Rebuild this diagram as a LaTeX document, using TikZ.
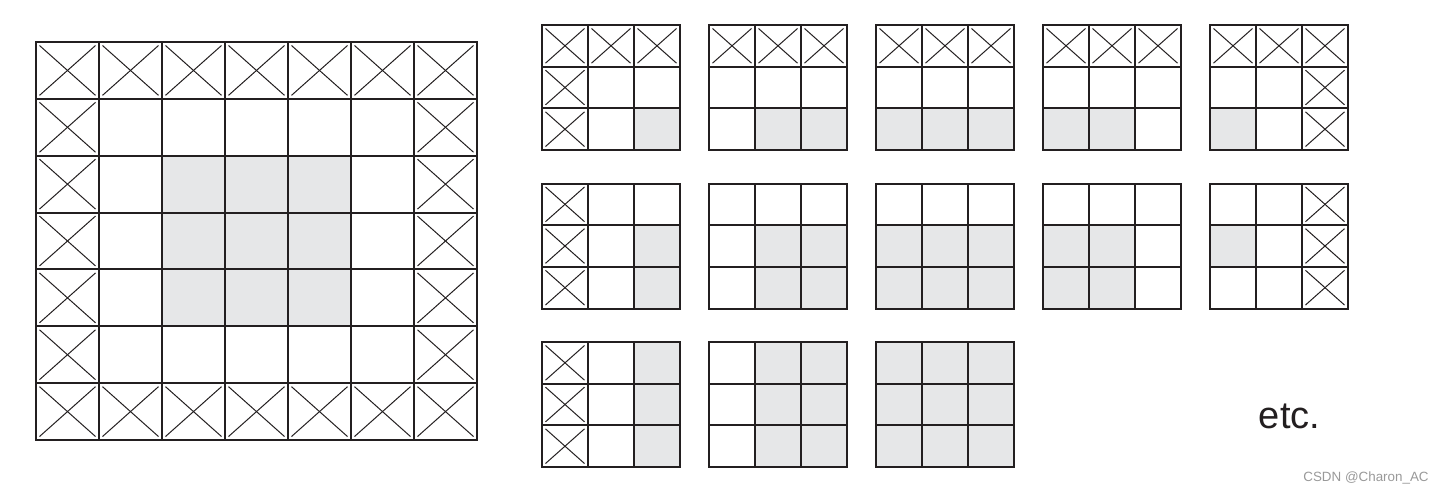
\documentclass[tikz,border=0pt]{standalone}
\usepackage{fontspec}
\setmainfont{Liberation Sans}
\definecolor{lc}{HTML}{231F20}
\definecolor{gc}{HTML}{E6E7E8}
\definecolor{wm}{HTML}{999999}
\tikzset{
  gridline/.style={draw=lc, line width=2pt, line cap=rect},
  xline/.style={draw=lc, line width=1pt},
  graycell/.style={fill=gc},
}
% #1 x0, #2 y0, #3 n, #4 w, #5 h
\newcommand\mygridlines[5]{%
  \foreach \i in {0,...,#3}{
    \draw[gridline] ({#1+\i*#4},#2) -- ({#1+\i*#4},{#2+#3*#5});
    \draw[gridline] (#1,{#2+\i*#5}) -- ({#1+#3*#4},{#2+\i*#5});
  }}
% #1 x0, #2 y0, #3 w, #4 h, #5 list r/c
\newcommand\mygray[5]{%
  \foreach \r/\c in {#5}{
    \fill[graycell] ({#1+\c*#3},{#2+\r*#4}) rectangle ++(#3,#4);
  }}
\newcommand\mycross[5]{%
  \foreach \r/\c in {#5}{
    \draw[xline] ({#1+\c*#3+3.5},{#2+\r*#4+3.5}) -- ++({#3-7},{#4-7});
    \draw[xline] ({#1+\c*#3+#3-3.5},{#2+\r*#4+3.5}) -- ++({7-#3},{#4-7});
  }}
\newcommand\sw{46}
\newcommand\sh{41.67}
\begin{document}
\begin{tikzpicture}[x=1pt,y=-1pt]
\path[use as bounding box] (0,0) rectangle (1444,493);
% big grid
\mygray{36}{42}{63}{56.86}{2/2,2/3,2/4,3/2,3/3,3/4,4/2,4/3,4/4}
\mycross{36}{42}{63}{56.86}{0/0,0/1,0/2,0/3,0/4,0/5,0/6,6/0,6/1,6/2,6/3,6/4,6/5,6/6,1/0,2/0,3/0,4/0,5/0,1/6,2/6,3/6,4/6,5/6}
\mygridlines{36}{42}{7}{63}{56.86}
% row 1
\mygray{542}{25}{\sw}{\sh}{2/2}
\mycross{542}{25}{\sw}{\sh}{0/0,0/1,0/2,1/0,2/0}
\mygray{709}{25}{\sw}{\sh}{2/1,2/2}
\mycross{709}{25}{\sw}{\sh}{0/0,0/1,0/2}
\mygray{876}{25}{\sw}{\sh}{2/0,2/1,2/2}
\mycross{876}{25}{\sw}{\sh}{0/0,0/1,0/2}
\mygray{1043}{25}{\sw}{\sh}{2/0,2/1}
\mycross{1043}{25}{\sw}{\sh}{0/0,0/1,0/2}
\mygray{1210}{25}{\sw}{\sh}{2/0}
\mycross{1210}{25}{\sw}{\sh}{0/0,0/1,0/2,1/2,2/2}
% row 2
\mygray{542}{183.5}{\sw}{\sh}{1/2,2/2}
\mycross{542}{183.5}{\sw}{\sh}{0/0,1/0,2/0}
\mygray{709}{183.5}{\sw}{\sh}{1/1,1/2,2/1,2/2}
\mygray{876}{183.5}{\sw}{\sh}{1/0,1/1,1/2,2/0,2/1,2/2}
\mygray{1043}{183.5}{\sw}{\sh}{1/0,1/1,2/0,2/1}
\mygray{1210}{183.5}{\sw}{\sh}{1/0}
\mycross{1210}{183.5}{\sw}{\sh}{0/2,1/2,2/2}
% row 3
\mygray{542}{342}{\sw}{\sh}{0/2,1/2,2/2}
\mycross{542}{342}{\sw}{\sh}{0/0,1/0,2/0}
\mygray{709}{342}{\sw}{\sh}{0/1,0/2,1/1,1/2,2/1,2/2}
\mygray{876}{342}{\sw}{\sh}{0/0,0/1,0/2,1/0,1/1,1/2,2/0,2/1,2/2}
% frames
\foreach \gx in {542,709,876,1043,1210}{
  \mygridlines{\gx}{25}{3}{\sw}{\sh}
  \mygridlines{\gx}{183.5}{3}{\sw}{\sh}
}
\foreach \gx in {542,709,876}{
  \mygridlines{\gx}{342}{3}{\sw}{\sh}
}
\node[anchor=base, inner sep=0pt, text=lc, font=\fontsize{38}{40}\selectfont] (etc) at (1289.5,428) {etc.};
\node[anchor=base, inner sep=0pt, text=wm, font=\fontsize{13.4}{15}\selectfont] (wmark) at (1366,481.5) {CSDN @Charon\_AC};
\end{tikzpicture}
\end{document}
